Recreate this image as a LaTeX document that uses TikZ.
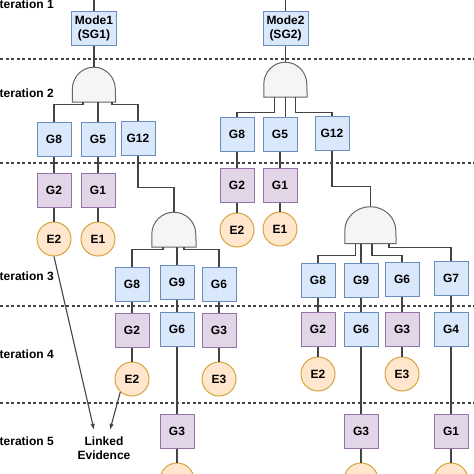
\documentclass[tikz,border=0pt]{standalone}
\usepackage{fontspec}
\setmainfont{Liberation Sans}
\usetikzlibrary{calc, positioning}
\usetikzlibrary{arrows.meta}

\definecolor{boxblue}{HTML}{DAE8FC}
\definecolor{lineblue}{HTML}{6C8EBF}
\definecolor{boxpurple}{HTML}{E1D5E7}
\definecolor{linepurple}{HTML}{9673A6}
\definecolor{evfill}{HTML}{FFE6CC}
\definecolor{evline}{HTML}{D6A53C}
\definecolor{gatefill}{HTML}{F5F5F5}
\definecolor{gateline}{HTML}{666666}
\definecolor{wirecol}{HTML}{444444}

\tikzset{
  lbl/.style={font=\fontsize{12}{14}\selectfont\bfseries},
  gbox/.style={lbl, draw=lineblue, fill=boxblue, line width=1pt,
    minimum width=34pt, minimum height=34pt, inner sep=0pt},
  pbox/.style={gbox, draw=linepurple, fill=boxpurple},
  ev/.style={lbl, circle, draw=evline, fill=evfill, line width=1pt,
    minimum size=34pt, inner sep=0pt},
  gate/.style={minimum width=42pt, minimum height=34pt, inner sep=0pt},
  wire/.style={draw=wirecol, line width=1.1pt},
  iter/.style={lbl, anchor=base west, inner sep=0pt},
  sep/.style={draw=wirecol, line width=1.2pt, dash pattern=on 3pt off 2.5pt},
}

% and gate on an empty node: #2 half width, #3 arch height, #4 straight part
\newcommand{\andgate}[4]{%
  \draw[draw=gateline, fill=gatefill, line width=1pt] (#1.south west) -- ++(0,-#4)
    arc[start angle=180, end angle=0, x radius=#2pt, y radius=#3pt]
    -- (#1.south east) -- cycle;}

\begin{document}
\begin{tikzpicture}[x=1pt, y=-1pt]
\fill[white] (0,0) rectangle (474,474);
\useasboundingbox (0,0) rectangle (474,474);

% iteration separators
\draw[sep] (0,59) -- (474,59);
\draw[sep] (0,163) -- (474,163);
\draw[sep] (0,306) -- (474,306);
\draw[sep] (0,403) -- (474,403);

\node[iter] (it1) at (-3.8,8) {Iteration 1};
\node[iter] (it2) at (-3.8,97) {Iteration 2};
\node[iter] (it3) at (-3.8,280) {Iteration 3};
\node[iter] (it4) at (-3.8,358) {Iteration 4};
\node[iter] (it5) at (-3.8,445) {Iteration 5};

% mode 1
\coordinate (top1) at (94,-1);
\node[gbox, minimum width=45pt, align=center] (mode1) at (94,28) {Mode1\\(SG1)};
\node[gate, minimum width=43pt, minimum height=35pt] (and1) at (94,84.5) {};
\andgate{and1}{21.5}{22}{13}
\node[gbox] (g8a) at (54,139) {G8};
\node[gbox] (g5a) at (98,139) {G5};
\node[gbox] (g12a) at (138,138) {G12};
\node[pbox] (g2a) at (54,190) {G2};
\node[pbox] (g1a) at (98,190) {G1};
\node[ev] (e2a) at (54,239) {E2};
\node[ev] (e1a) at (98,239) {E1};
\node[gate, minimum width=44pt, minimum height=35pt] (and3) at (174,229.5) {};
\andgate{and3}{22}{22}{13}
\node[gbox] (g8b) at (132,284) {G8};
\node[gbox] (g9b) at (177,282) {G9};
\node[gbox] (g6b) at (219,284) {G6};
\node[pbox] (g2b) at (132,330) {G2};
\node[gbox] (g6c) at (177,329) {G6};
\node[pbox] (g3b) at (219,330) {G3};
\node[ev] (e2b) at (132,379) {E2};
\node[ev] (e3b) at (219,379) {E3};
\node[pbox] (g3c) at (177,431) {G3};
\node[ev] (exc) at (177,480) {};

\draw[wire] (top1) -- (mode1.north);
\draw[wire] (mode1.south) -- (and1.north);
\draw[wire] ([xshift=-11pt]and1.south) -- ++(0,2.5) -| (g8a.north);
\draw[wire] (and1.south -| g5a.north) -- (g5a.north);
\draw[wire] ([xshift=18pt]and1.south) -- ++(0,2.5) -| (g12a.north);
\draw[wire] (g8a) -- (g2a) -- (e2a);
\draw[wire] (g5a) -- (g1a) -- (e1a);
\draw[wire] (g12a.south) -- ++(0,32) -| (and3.north);
\draw[wire] ([xshift=-11pt]and3.south) -- ++(0,2.5) -| (g8b.north);
\draw[wire] (and3.south -| g9b.north) -- (g9b.north);
\draw[wire] ([xshift=10pt]and3.south) -- ++(0,2.5) -| (g6b.north);
\draw[wire] (g8b) -- (g2b) -- (e2b);
\draw[wire] (g9b) -- (g6c) -- (g3c) -- (exc);
\draw[wire] (g6b) -- (g3b) -- (e3b);

% mode 2
\coordinate (top2) at (285.5,-1);
\node[gbox, minimum width=45pt, align=center] (mode2) at (285.5,28) {Mode2\\(SG2)};
\node[gate, minimum width=43pt, minimum height=35pt] (and2) at (285.5,79.5) {};
\andgate{and2}{21.5}{22}{13}
\node[gbox] (g8d) at (237,134) {G8};
\node[gbox] (g5d) at (280,134) {G5};
\node[gbox] (g12d) at (332,133) {G12};
\node[pbox] (g2d) at (237,185) {G2};
\node[pbox] (g1d) at (280,185) {G1};
\node[ev] (e2d) at (237,230) {E2};
\node[ev] (e1d) at (280,229) {E1};
\node[gate, minimum width=51pt, minimum height=37pt] (and4) at (370.5,225) {};
\andgate{and4}{25.5}{24}{13}
\node[gbox] (g8e) at (318,280) {G8};
\node[gbox] (g9e) at (361,280) {G9};
\node[gbox] (g6e) at (402,279) {G6};
\node[gbox] (g7e) at (451,278) {G7};
\node[pbox] (g2e) at (318,329) {G2};
\node[gbox] (g6f) at (361,329) {G6};
\node[pbox] (g3e) at (402,329) {G3};
\node[gbox] (g4e) at (451,329) {G4};
\node[ev] (e2e) at (318,374) {E2};
\node[ev] (e3e) at (402,374) {E3};
\node[pbox] (g3f) at (361,431) {G3};
\node[pbox] (g1f) at (451,431) {G1};
\node[ev] (exf) at (361,480) {};
\node[ev] (exg) at (451,480) {};

\draw[wire] (top2) -- (mode2.north);
\draw[wire] (mode2.south) -- (and2.north);
\draw[wire] ([xshift=-11pt]and2.south) -- ++(0,15) -| (g8d.north);
\draw[wire] (and2.south) -- (and2.south |- g5d.north);
\draw[wire] ([xshift=10pt]and2.south) -- ++(0,15) -| (g12d.north);
\draw[wire] (g8d) -- (g2d) -- (e2d);
\draw[wire] (g5d) -- (g1d) -- (e1d);
\draw[wire] (g12d.south) -- ++(0,36) -| (and4.north);
\draw[wire] ([xshift=-15pt]and4.south) -- ++(0,12) -| (g8e.north);
\draw[wire] (and4.south -| g9e.north) -- (g9e.north);
\draw[wire] ([xshift=1.5pt]and4.south) -- ++(0,12) -| (g6e.north);
\draw[wire] ([xshift=18.5pt]and4.south) -- ++(0,4) -| (g7e.north);
\draw[wire] (g8e) -- (g2e) -- (e2e);
\draw[wire] (g9e) -- (g6f) -- (g3f) -- (exf);
\draw[wire] (g6e) -- (g3e) -- (e3e);
\draw[wire] (g7e) -- (g4e) -- (g1f) -- (exg);

% linked evidence
\node[lbl, align=center, inner sep=7pt] (linked) at (104,448.5) {Linked\\Evidence};
\draw[wire, -{Latex[length=6pt, width=4.5pt]}] (e2a.south) -- ([xshift=-10pt]linked.north);
\draw[wire, -{Latex[length=6pt, width=4.5pt]}] (e2b.228) -- ([xshift=6pt]linked.north);
\end{tikzpicture}
\end{document}
